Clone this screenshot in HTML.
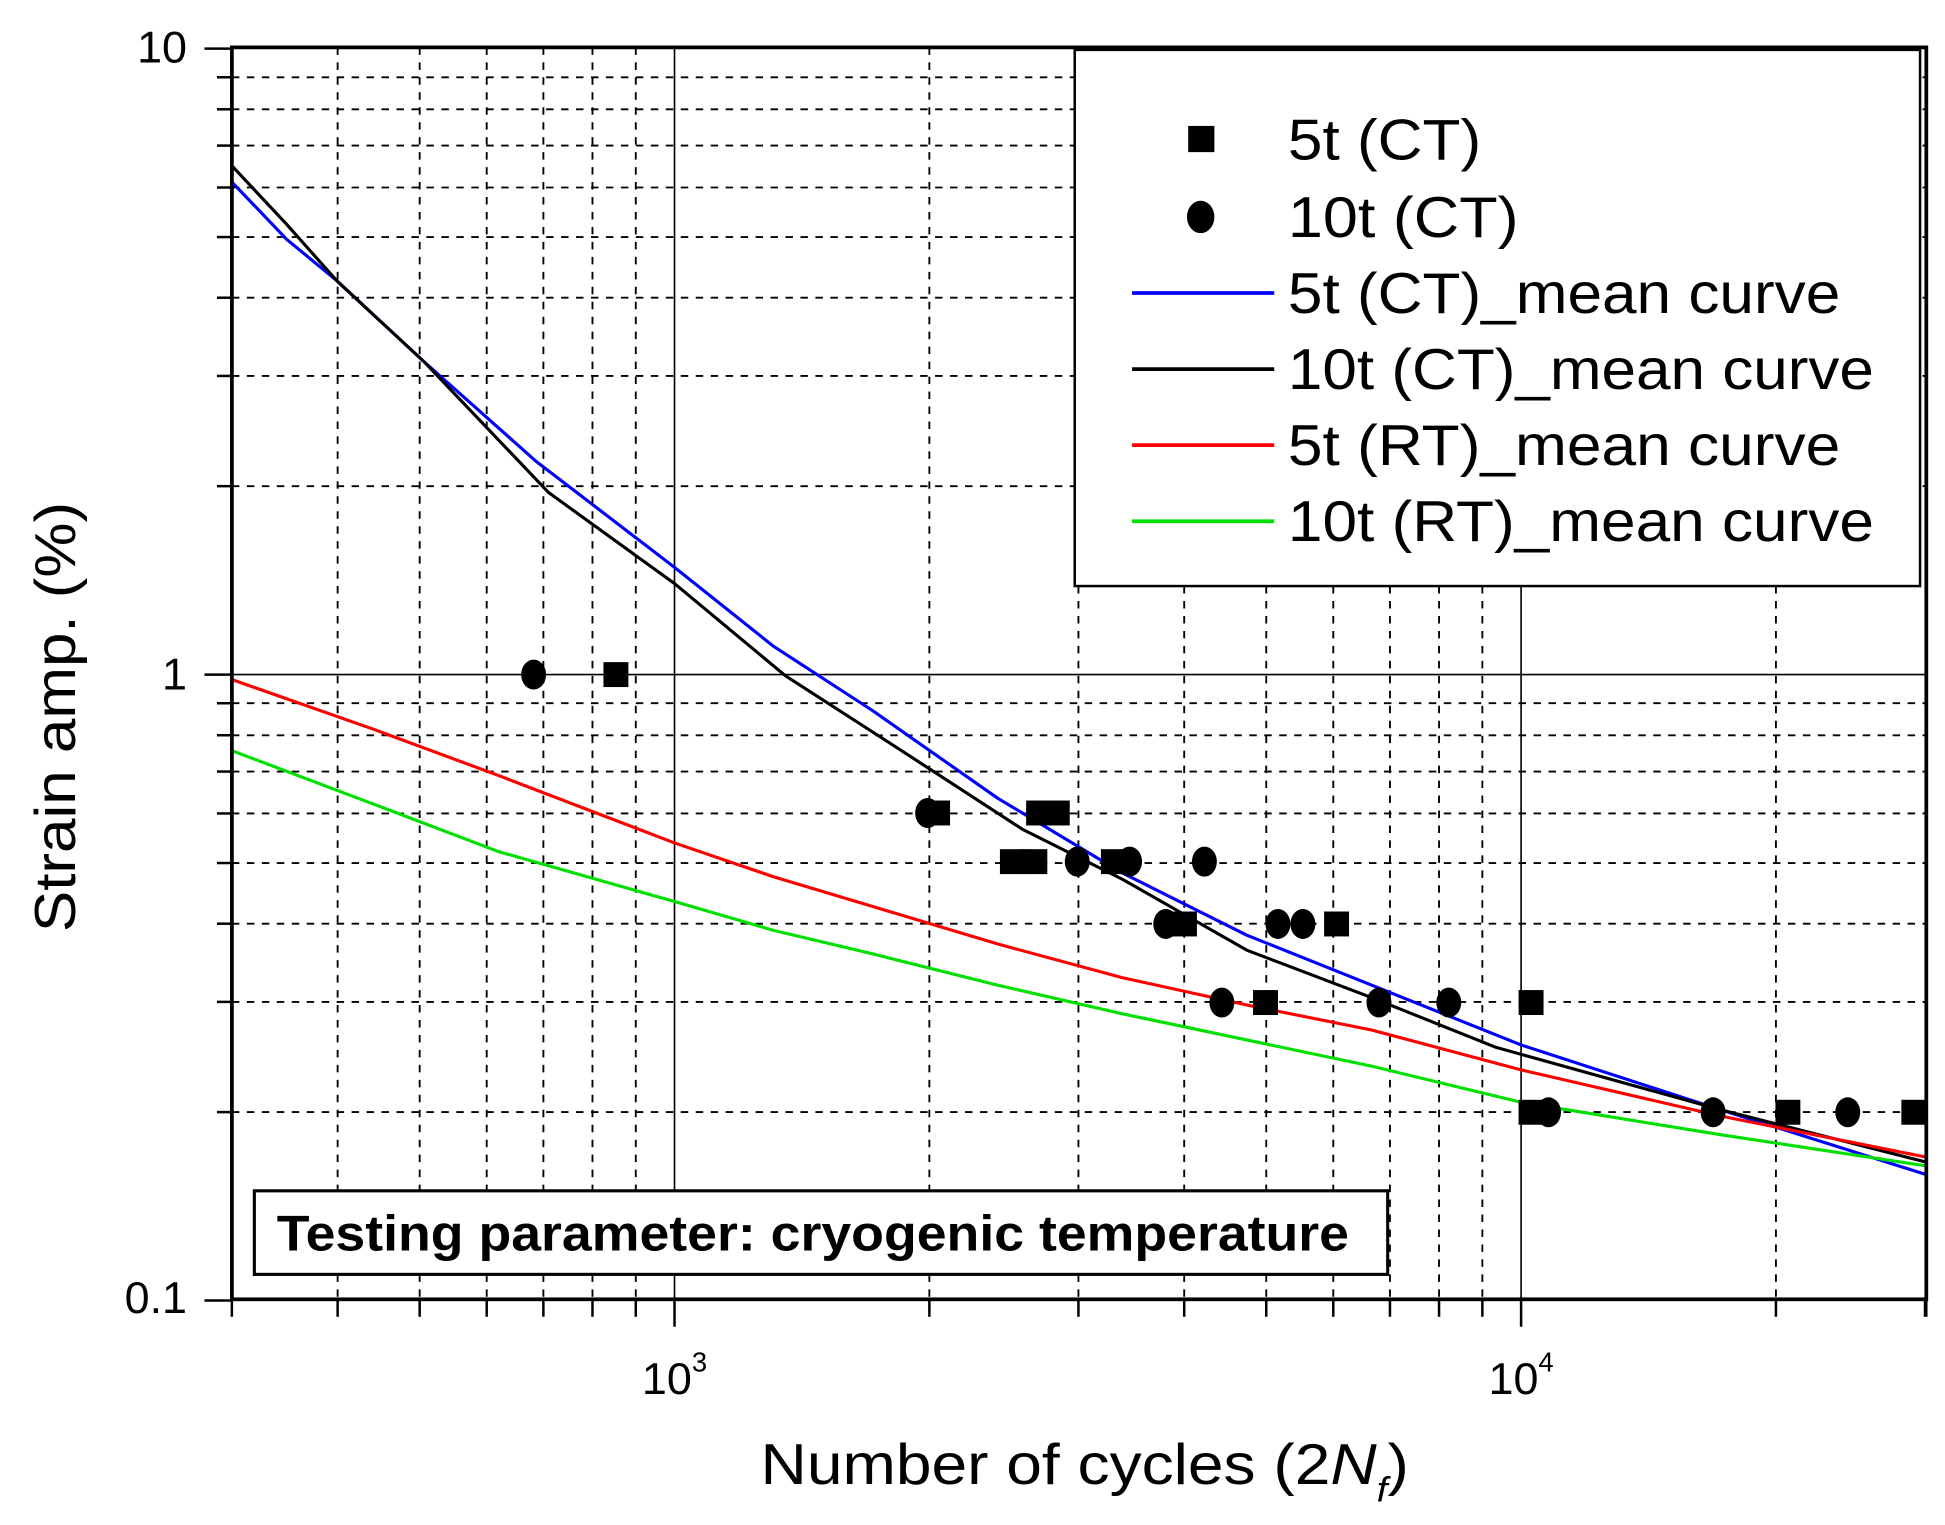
<!DOCTYPE html>
<html><head><meta charset="utf-8"><style>
html,body{margin:0;padding:0;background:#fff;}
svg{display:block;}
text{font-family:"Liberation Sans Narrow","Liberation Sans",sans-serif;fill:#000;}
</style></head><body>
<svg id="s" width="1945" height="1525" viewBox="0 0 1560 1223" preserveAspectRatio="none" xmlns="http://www.w3.org/2000/svg">
<rect width="1560" height="1223" fill="#fff"/>
<g id="grid"></g>
<g fill="none" stroke-width="2.5" stroke-linejoin="round">
<polyline stroke="#0000ff" points="186,146 230,192 270,225 340,290 430,370 541,455 620,518 700,570 800,640 900,700 1000,750 1100,790 1220,838 1380,890 1545,942"/>
<polyline stroke="#000" points="186,133 230,180 270,225 340,290 440,395 541,468 630,542 720,600 820,665 900,705 1000,762 1100,800 1200,840 1380,890 1545,932"/>
<polyline stroke="#ff0000" points="186,545 300,585 400,622 541,676 620,703 700,727 800,757 900,784 1000,806 1100,826 1220,858 1380,895 1545,928"/>
<polyline stroke="#00e000" points="186,602 300,645 400,683 541,723 620,746 700,765 800,790 900,813 1000,834 1100,855 1220,884 1380,910 1545,935"/>
</g>
<g id="pts"></g>
<g id="axes"></g>
<!-- legend -->
<rect x="862" y="40" width="678" height="430" fill="#fff" stroke="#000" stroke-width="2"/>
<rect x="953" y="101" width="21" height="21" fill="#000"/>
<ellipse cx="963" cy="174" rx="11" ry="13" fill="#000"/>
<line x1="908" y1="235" x2="1022" y2="235" stroke="#0000ff" stroke-width="3"/>
<line x1="908" y1="296" x2="1022" y2="296" stroke="#000" stroke-width="3"/>
<line x1="908" y1="357" x2="1022" y2="357" stroke="#ff0000" stroke-width="3"/>
<line x1="908" y1="418" x2="1022" y2="418" stroke="#00e000" stroke-width="3"/>
<g font-size="46">
<text x="1033" y="128" textLength="155" lengthAdjust="spacingAndGlyphs">5t (CT)</text>
<text x="1033" y="190" textLength="185" lengthAdjust="spacingAndGlyphs">10t (CT)</text>
<text x="1033" y="251" textLength="443" lengthAdjust="spacingAndGlyphs">5t (CT)_mean curve</text>
<text x="1033" y="312" textLength="470" lengthAdjust="spacingAndGlyphs">10t (CT)_mean curve</text>
<text x="1033" y="373" textLength="443" lengthAdjust="spacingAndGlyphs">5t (RT)_mean curve</text>
<text x="1033" y="434" textLength="470" lengthAdjust="spacingAndGlyphs">10t (RT)_mean curve</text>
</g>
<rect x="204" y="955" width="909" height="67" fill="#fff" stroke="#000" stroke-width="2.5"/>
<text x="222" y="1003" font-size="40" font-weight="bold" textLength="860" lengthAdjust="spacingAndGlyphs">Testing parameter: cryogenic temperature</text>
<g font-size="36">
<text x="150" y="50" text-anchor="end">10</text>
<text x="150" y="553" text-anchor="end">1</text>
<text x="150" y="1053" text-anchor="end">0.1</text>
<text x="541" y="1118" text-anchor="middle">10<tspan font-size="22" dy="-18">3</tspan></text>
<text x="1220" y="1118" text-anchor="middle">10<tspan font-size="22" dy="-18">4</tspan></text>
</g>
<text x="610" y="1190" font-size="46" textLength="520" lengthAdjust="spacingAndGlyphs">Number of cycles (2<tspan font-style="italic">N</tspan><tspan font-size="28" font-style="italic" dy="14">f</tspan><tspan dy="-14">)</tspan></text>
<text transform="translate(60,575) rotate(-90)" font-size="46" text-anchor="middle" textLength="345" lengthAdjust="spacingAndGlyphs">Strain amp. (%)</text>
</svg>
<script>
var L=186,R=1545,T=38,B=1042,x3=541,dx=679,y1=541,dy=502;
function X(v){return x3+dx*(Math.log10(v)-3);}
function Y(v){return y1-dy*Math.log10(v);}
var g='';
var xs=[300,400,500,600,700,800,900,2000,3000,4000,5000,6000,7000,8000,9000,20000,30000];
xs.forEach(function(v){var x=X(v);if(x>L+2&&x<R-2)g+='<line x1="'+x+'" y1="'+T+'" x2="'+x+'" y2="'+B+'" stroke="#000" stroke-width="1.5" stroke-dasharray="6,6"/>';});
var ys=[0.2,0.3,0.4,0.5,0.6,0.7,0.8,0.9,2,3,4,5,6,7,8,9];
ys.forEach(function(v){var y=Y(v);g+='<line x1="'+L+'" y1="'+y+'" x2="'+R+'" y2="'+y+'" stroke="#000" stroke-width="1.5" stroke-dasharray="6,6"/>';});
g+='<line x1="'+X(1000)+'" y1="'+T+'" x2="'+X(1000)+'" y2="'+B+'" stroke="#000" stroke-width="1.3"/>';
g+='<line x1="'+X(10000)+'" y1="'+T+'" x2="'+X(10000)+'" y2="'+B+'" stroke="#000" stroke-width="1.3"/>';
g+='<line x1="'+L+'" y1="'+y1+'" x2="'+R+'" y2="'+y1+'" stroke="#000" stroke-width="1.3"/>';
document.getElementById('grid').innerHTML=g;
var a='<rect x="'+L+'" y="'+T+'" width="'+(R-L)+'" height="'+(B-T)+'" fill="none" stroke="#000" stroke-width="3"/>';
xs.concat([1000,10000]).forEach(function(v){var x=X(v);var len=(v==1000||v==10000)?22:14;a+='<line x1="'+x+'" y1="'+B+'" x2="'+x+'" y2="'+(B+len)+'" stroke="#000" stroke-width="2"/>';});
a+='<line x1="'+R+'" y1="'+B+'" x2="'+R+'" y2="'+(B+14)+'" stroke="#000" stroke-width="2"/>';
ys.concat([1,10,0.1]).forEach(function(v){var y=Y(v);var len=(v==1||v==10||v==0.1)?22:12;a+='<line x1="'+(L-len)+'" y1="'+y+'" x2="'+L+'" y2="'+y+'" stroke="#000" stroke-width="2"/>';});
document.getElementById('axes').innerHTML=a;
var sq=[[494,541],[752,652],[812,691],[830,691],[833,652],[848,652],[893,691],[950,741],[1015,804],[1072,741],[1228,804],[1228,892],[1434,892],[1535,892]];
var ci=[[428,541],[744,652],[864,691],[906,691],[966,691],[935,741],[980,804],[1025,741],[1045,741],[1106,804],[1162,804],[1242,892],[1374,892],[1482,892]];
var p='';
sq.forEach(function(q){p+='<rect x="'+(q[0]-10)+'" y="'+(q[1]-10)+'" width="20" height="20" fill="#000"/>';});
ci.forEach(function(q){p+='<ellipse cx="'+q[0]+'" cy="'+q[1]+'" rx="10" ry="12" fill="#000"/>';});
document.getElementById('pts').innerHTML=p;
</script>
</body></html>
